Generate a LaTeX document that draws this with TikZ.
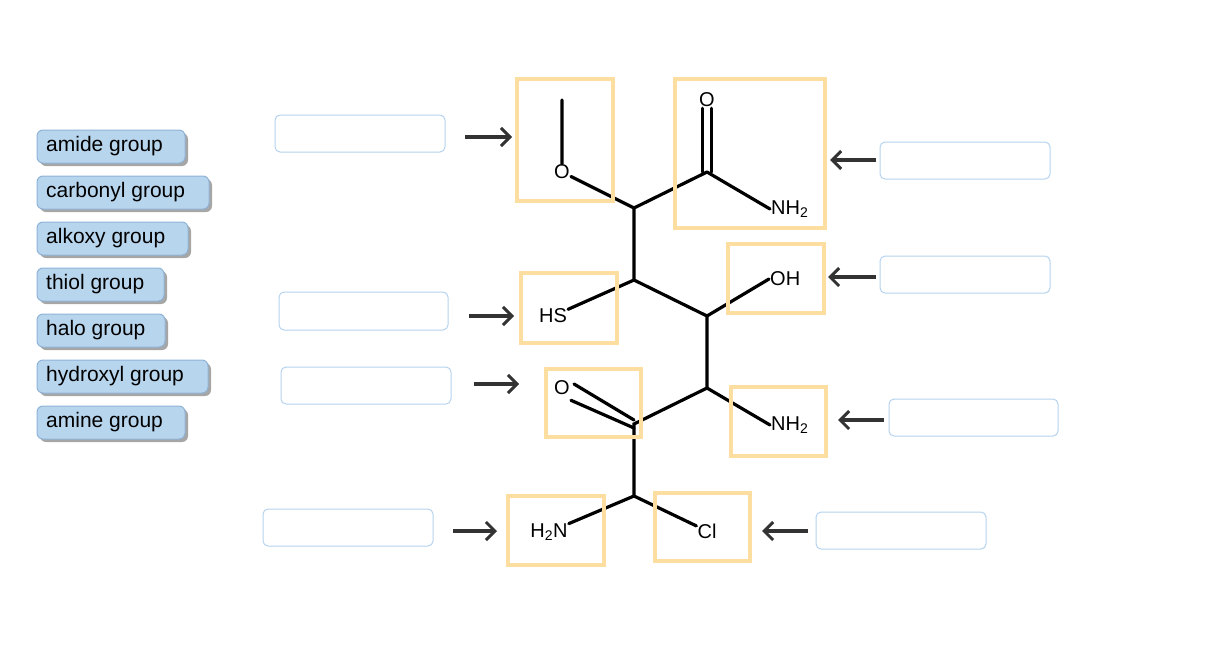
\documentclass[tikz,border=0pt]{standalone}
\usepackage{fontspec}
\setmainfont{Liberation Sans}
\usetikzlibrary{arrows.meta}
\definecolor{tagfill}{HTML}{B8D5EE}
\definecolor{tagline}{HTML}{8FB3D6}
\definecolor{ybox}{HTML}{FCDFA0}
\definecolor{inbox}{HTML}{B5D2EE}
\begin{document}
\begin{tikzpicture}[x=1pt,y=-1pt,
  tag/.style={fill=tagfill,draw=tagline,rounded corners=6pt,line width=1pt},
  tagshadow/.style={fill=gray!70,rounded corners=6pt},
  yb/.style={draw=ybox,line width=3.4pt},
  ib/.style={draw=inbox,rounded corners=5pt,line width=1pt},
  arr/.style={-{Straight Barb[length=9pt,width=18pt,line width=3pt]},line width=3.2pt,draw=black!80},
  bond/.style={line width=3.2pt,line cap=round},
  atom/.style={font=\fontsize{20}{20}\selectfont,inner sep=1pt,fill=white}]
\useasboundingbox (0,0) rectangle (1220,648);
% tags
\foreach \y/\w/\t [count=\i] in {130/185/amide group,176/209/carbonyl group,222/188/alkoxy group,268/164/thiol group,314/165/halo group,360/208/hydroxyl group,406/185/amine group}{
  \fill[tagshadow] (40,\y+3) rectangle (\w+3,\y+36);
  \draw[tag] (37,\y) rectangle (\w,\y+33);
  \node[anchor=west,font=\fontsize{21}{21}\selectfont,inner sep=0pt] (t\i) at (46,\y+16) {\t};
}
% input boxes
\draw[ib] (275,115) rectangle (445,152);
\draw[ib] (880,142) rectangle (1050,179);
\draw[ib] (880,256) rectangle (1050,293);
\draw[ib] (279,292) rectangle (448,330);
\draw[ib] (281,367) rectangle (451,404);
\draw[ib] (889,399) rectangle (1058,436);
\draw[ib] (263,509) rectangle (433,546);
\draw[ib] (816,512) rectangle (986,549);
% arrows
\coordinate (a1s) at (465,137); \coordinate (a1e) at (512,137);
\coordinate (a2s) at (876,160); \coordinate (a2e) at (830,160);
\coordinate (a3s) at (876,277); \coordinate (a3e) at (828,277);
\coordinate (a4s) at (469,316); \coordinate (a4e) at (514,316);
\coordinate (a5s) at (474,384); \coordinate (a5e) at (519,384);
\coordinate (a6s) at (884,420); \coordinate (a6e) at (838,420);
\coordinate (a7s) at (453,531); \coordinate (a7e) at (497,531);
\coordinate (a8s) at (808,531); \coordinate (a8e) at (762,531);
\foreach \i in {1,...,8}{\draw[arr] (a\i s) -- (a\i e);}
% skeleton
\coordinate (c1) at (634,208); \coordinate (ca) at (707,172);
\coordinate (me) at (562,100); \coordinate (c2) at (634,280);
\coordinate (c3) at (707,316); \coordinate (c4) at (707,388);
\coordinate (c5) at (634,424); \coordinate (c6) at (634,496);
\draw[bond] (c1)--(ca) (c1)--(c2)--(c3)--(c4)--(c5)--(c6);
\node[atom] (o1) at (562,172) {O};
\node[atom] (o2) at (707,100) {O};
\node[atom,anchor=west] (n1) at (770,209) {NH\textsubscript{2}};
\node[atom] (hs) at (553,316) {HS};
\node[atom,anchor=west] (oh) at (769,279) {OH};
\node[atom] (o3) at (562,388) {O};
\node[atom,anchor=west] (n2) at (770,425) {NH\textsubscript{2}};
\node[atom] (n3) at (549,532) {H\textsubscript{2}N};
\node[atom] (cl) at (707,531) {Cl};
\draw[bond] (me)--(o1) (o1)--(c1) (ca)--(n1.west) (c2)--(hs) (c3)--(oh.west) (c4)--(n2.west) (c6)--(n3) (c6)--(cl);
\draw[bond] ([xshift=-4.5pt]ca)--([xshift=-4.5pt]o2.south) ([xshift=4.5pt]ca)--([xshift=4.5pt]o2.south);
\draw[bond] ([yshift=-4pt]c5)--([yshift=-4pt]o3.south east) ([yshift=4pt]c5)--([yshift=4pt,xshift=3pt]o3.east);
% yellow boxes
\draw[yb] (517,79) rectangle (613,201);
\draw[yb] (675,79) rectangle (825,228);
\draw[yb] (521,273) rectangle (617,343);
\draw[yb] (728,244) rectangle (824,313);
\draw[yb] (546,369) rectangle (641,437);
\draw[yb] (731,387) rectangle (826,456);
\draw[yb] (508,496) rectangle (604,565);
\draw[yb] (655,493) rectangle (750,561);
\end{tikzpicture}
\end{document}
